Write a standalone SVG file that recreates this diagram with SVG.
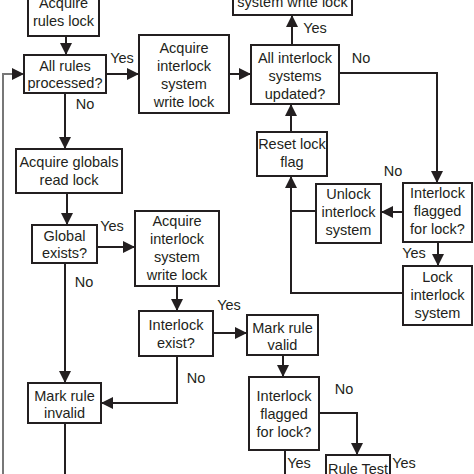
<svg xmlns="http://www.w3.org/2000/svg" width="474" height="474" viewBox="0 0 474 474">
<style>
.box rect{fill:#fff;stroke:#231f20;stroke-width:2}
text{font-family:"Liberation Sans",Arial,sans-serif;font-size:14.5px;fill:#231f20;text-anchor:middle}
.c path{fill:none;stroke:#231f20;stroke-width:2}
</style>
<defs>
<marker id="ah" viewBox="0 0 12 12" refX="12" refY="6" markerWidth="12" markerHeight="12" markerUnits="userSpaceOnUse" orient="auto"><path d="M0,0 L12,6 L0,12 z" fill="#231f20"/></marker>
</defs>
<rect width="474" height="474" fill="#fff"/>
<g class="c" id="connectors">
<path d="M66,36 V55" marker-end="url(#ah)"/>
<path d="M106,74 H139" marker-end="url(#ah)"/>
<path d="M65,93 V149" marker-end="url(#ah)"/>
<path d="M229,74 H251" marker-end="url(#ah)"/>
<path d="M292,45 V15" marker-end="url(#ah)"/>
<path d="M339,73 H437 V183" marker-end="url(#ah)"/>
<path d="M403,212 H381" marker-end="url(#ah)"/>
<path d="M316,211 H291"/>
<path d="M403,293 H291 V176" marker-end="url(#ah)"/>
<path d="M291,132 V104" marker-end="url(#ah)"/>
<path d="M438,242 V266" marker-end="url(#ah)"/>
<path d="M3,474 V74 H24" marker-end="url(#ah)" style="stroke:#777"/>
<path d="M67,193 V225" marker-end="url(#ah)"/>
<path d="M97,247 H135" marker-end="url(#ah)"/>
<path d="M65,263 V383" marker-end="url(#ah)"/>
<path d="M177,286 V311" marker-end="url(#ah)"/>
<path d="M213,333 H247" marker-end="url(#ah)"/>
<path d="M177,356 V403 H101" marker-end="url(#ah)"/>
<path d="M283,355 V377" marker-end="url(#ah)"/>
<path d="M319,413 H357 V455" marker-end="url(#ah)"/>
<path d="M285,450 V474"/>
<path d="M65,423 V474"/>
</g>
<g id="labels">
<text x="122" y="63">Yes</text>
<text x="85" y="109">No</text>
<text x="315" y="33">Yes</text>
<text x="361" y="63">No</text>
<text x="393" y="176">No</text>
<text x="414" y="258">Yes</text>
<text x="112" y="231">Yes</text>
<text x="84" y="287">No</text>
<text x="229" y="310">Yes</text>
<text x="196" y="383">No</text>
<text x="344" y="394">No</text>
<text x="299" y="468">Yes</text>
<text x="404" y="468">Yes</text>
</g>
<g class="box" id="n_rules_lock"><rect x="28" y="-10" width="71" height="46"/><text x="63.5" y="8">Acquire</text><text x="63.5" y="26">rules lock</text></g>
<g class="box" id="n_all_rules"><rect x="24" y="55" width="82" height="38"/><text x="65" y="71">All rules</text><text x="65" y="88">processed?</text></g>
<g class="box" id="n_acq_a"><rect x="139" y="35" width="90" height="78"/><text x="184" y="53">Acquire</text><text x="184" y="71">interlock</text><text x="184" y="89">system</text><text x="184" y="107">write lock</text></g>
<g class="box" id="n_release"><rect x="233" y="-20" width="119" height="35"/><text x="292.5" y="7">system write lock</text></g>
<g class="box" id="n_all_interlock"><rect x="251" y="45" width="88" height="59"/><text x="295" y="63">All interlock</text><text x="295" y="81">systems</text><text x="295" y="99">updated?</text></g>
<g class="box" id="n_reset"><rect x="257" y="132" width="70" height="44"/><text x="292" y="149">Reset lock</text><text x="292" y="167">flag</text></g>
<g class="box" id="n_flag_r"><rect x="403" y="183" width="69" height="59"/><text x="437.5" y="198">Interlock</text><text x="437.5" y="216">flagged</text><text x="437.5" y="234">for lock?</text></g>
<g class="box" id="n_unlock"><rect x="316" y="184" width="65" height="59"/><text x="348.5" y="199">Unlock</text><text x="348.5" y="217">interlock</text><text x="348.5" y="235">system</text></g>
<g class="box" id="n_lock"><rect x="403" y="266" width="69" height="59"/><text x="437.5" y="282">Lock</text><text x="437.5" y="300">interlock</text><text x="437.5" y="318">system</text></g>
<g class="box" id="n_globals"><rect x="16" y="149" width="106" height="44"/><text x="69" y="167">Acquire globals</text><text x="69" y="185">read lock</text></g>
<g class="box" id="n_global_exists"><rect x="32" y="225" width="65" height="38"/><text x="64.5" y="241">Global</text><text x="64.5" y="258">exists?</text></g>
<g class="box" id="n_acq_b"><rect x="135" y="211" width="84" height="75"/><text x="177" y="226">Acquire</text><text x="177" y="244">interlock</text><text x="177" y="262">system</text><text x="177" y="280">write lock</text></g>
<g class="box" id="n_interlock_exist"><rect x="139" y="311" width="74" height="45"/><text x="176" y="330">Interlock</text><text x="176" y="348">exist?</text></g>
<g class="box" id="n_invalid"><rect x="28" y="383" width="73" height="40"/><text x="64.5" y="401">Mark rule</text><text x="64.5" y="418">invalid</text></g>
<g class="box" id="n_valid"><rect x="247" y="315" width="71" height="40"/><text x="282.5" y="333">Mark rule</text><text x="282.5" y="350">valid</text></g>
<g class="box" id="n_flag_b"><rect x="249" y="377" width="70" height="73"/><text x="284" y="401">Interlock</text><text x="284" y="419">flagged</text><text x="284" y="437">for lock?</text></g>
<g class="box" id="n_rule_test"><rect x="326" y="455" width="64" height="30"/><text x="358" y="474">Rule Test</text></g>
</svg>
